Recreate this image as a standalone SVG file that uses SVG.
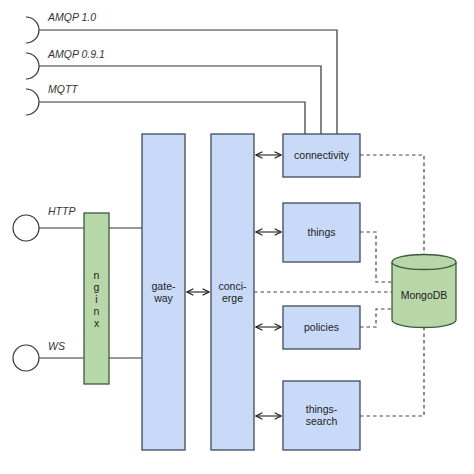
<svg xmlns="http://www.w3.org/2000/svg" width="474" height="474" viewBox="0 0 474 474">
<defs>
<style>
.blue{fill:#c9daf8;stroke:#3d4a5a;stroke-width:1.3}
.green{fill:#b7d7a8;stroke:#3d5a3a;stroke-width:1.3}
.ln{fill:none;stroke:#333;stroke-width:1.2}
.dash{fill:none;stroke:#444;stroke-width:1.2;stroke-dasharray:3.5,3}
.t{font-family:"Liberation Sans",Arial,sans-serif;font-size:10.5px;fill:#222;text-anchor:middle}
.lab{font-family:"Liberation Sans",Arial,sans-serif;font-size:10.5px;fill:#333;font-style:italic}
</style>
<marker id="ah" viewBox="0 0 10 10" refX="9" refY="5" markerWidth="8" markerHeight="8" orient="auto-start-reverse" markerUnits="userSpaceOnUse">
<path d="M1,1 L9,5 L1,9" fill="none" stroke="#222" stroke-width="1.6"/>
</marker>
</defs>
<rect width="474" height="474" fill="#fff"/>

<g id="connectors">
<path class="ln" d="M26,17 A13,13 0 0 1 26,43 M39,30 H337 V134"/>
<path class="ln" d="M26,53 A13,13 0 0 1 26,79 M39,66 H321 V134"/>
<path class="ln" d="M26,89 A13,13 0 0 1 26,115 M39,102 H305 V134"/>
<path class="ln" d="M39,228 H84 M109,228 H142"/>
<path class="ln" d="M39,358 H84 M109,358 H142"/>
<line class="ln" x1="187" y1="292" x2="209" y2="292" marker-start="url(#ah)" marker-end="url(#ah)"/>
<line class="ln" x1="256" y1="155" x2="281" y2="155" marker-start="url(#ah)" marker-end="url(#ah)"/>
<line class="ln" x1="256" y1="232" x2="281" y2="232" marker-start="url(#ah)" marker-end="url(#ah)"/>
<line class="ln" x1="256" y1="327" x2="281" y2="327" marker-start="url(#ah)" marker-end="url(#ah)"/>
<line class="ln" x1="256" y1="416" x2="281" y2="416" marker-start="url(#ah)" marker-end="url(#ah)"/>
<path class="dash" d="M360,155 H424 V255"/>
<path class="dash" d="M360,232 H376 V282 H392"/>
<path class="dash" d="M254,292 H392"/>
<path class="dash" d="M360,327 H376 V309 H392"/>
<path class="dash" d="M360,416 H424 V328"/>
</g>

<g id="amqp10"><text class="lab" x="48" y="21">AMQP 1.0</text></g>
<g id="amqp091"><text class="lab" x="48" y="58">AMQP 0.9.1</text></g>
<g id="mqtt"><text class="lab" x="48" y="93">MQTT</text></g>

<g id="http"><circle cx="26" cy="228" r="13" fill="#fff" stroke="#333" stroke-width="1.2"/><text class="lab" x="48" y="215">HTTP</text></g>
<g id="ws"><circle cx="26" cy="358" r="13" fill="#fff" stroke="#333" stroke-width="1.2"/><text class="lab" x="48" y="350">WS</text></g>

<g id="nginx"><rect class="green" x="84" y="213" width="25" height="171"/>
<text class="t" x="96.5" y="279">n</text>
<text class="t" x="96.5" y="291">g</text>
<text class="t" x="96.5" y="303">i</text>
<text class="t" x="96.5" y="315">n</text>
<text class="t" x="96.5" y="327">x</text>
</g>

<g id="gateway"><rect class="blue" x="142" y="134" width="43" height="316"/>
<text class="t" x="163.5" y="290">gate-</text><text class="t" x="163.5" y="302">way</text></g>

<g id="concierge"><rect class="blue" x="211" y="134" width="43" height="316"/>
<text class="t" x="232.5" y="290">conci-</text><text class="t" x="232.5" y="302">erge</text></g>

<g id="connectivity"><rect class="blue" x="283" y="134" width="77" height="43"/><text class="t" x="321.5" y="159">connectivity</text></g>
<g id="things"><rect class="blue" x="283" y="203" width="77" height="59"/><text class="t" x="321.5" y="236">things</text></g>
<g id="policies"><rect class="blue" x="283" y="306" width="77" height="43"/><text class="t" x="321.5" y="331">policies</text></g>
<g id="things-search"><rect class="blue" x="283" y="381" width="77" height="69"/><text class="t" x="321.5" y="413">things-</text><text class="t" x="321.5" y="425">search</text></g>

<g id="mongodb">
<path class="green" d="M392,262 A32,7.5 0 0 1 456,262 V320 A32,7.5 0 0 1 392,320 Z"/>
<path class="green" fill="none" d="M392,262 A32,7.5 0 0 0 456,262"/>
<text class="t" x="424" y="299">MongoDB</text>
</g>
</svg>
